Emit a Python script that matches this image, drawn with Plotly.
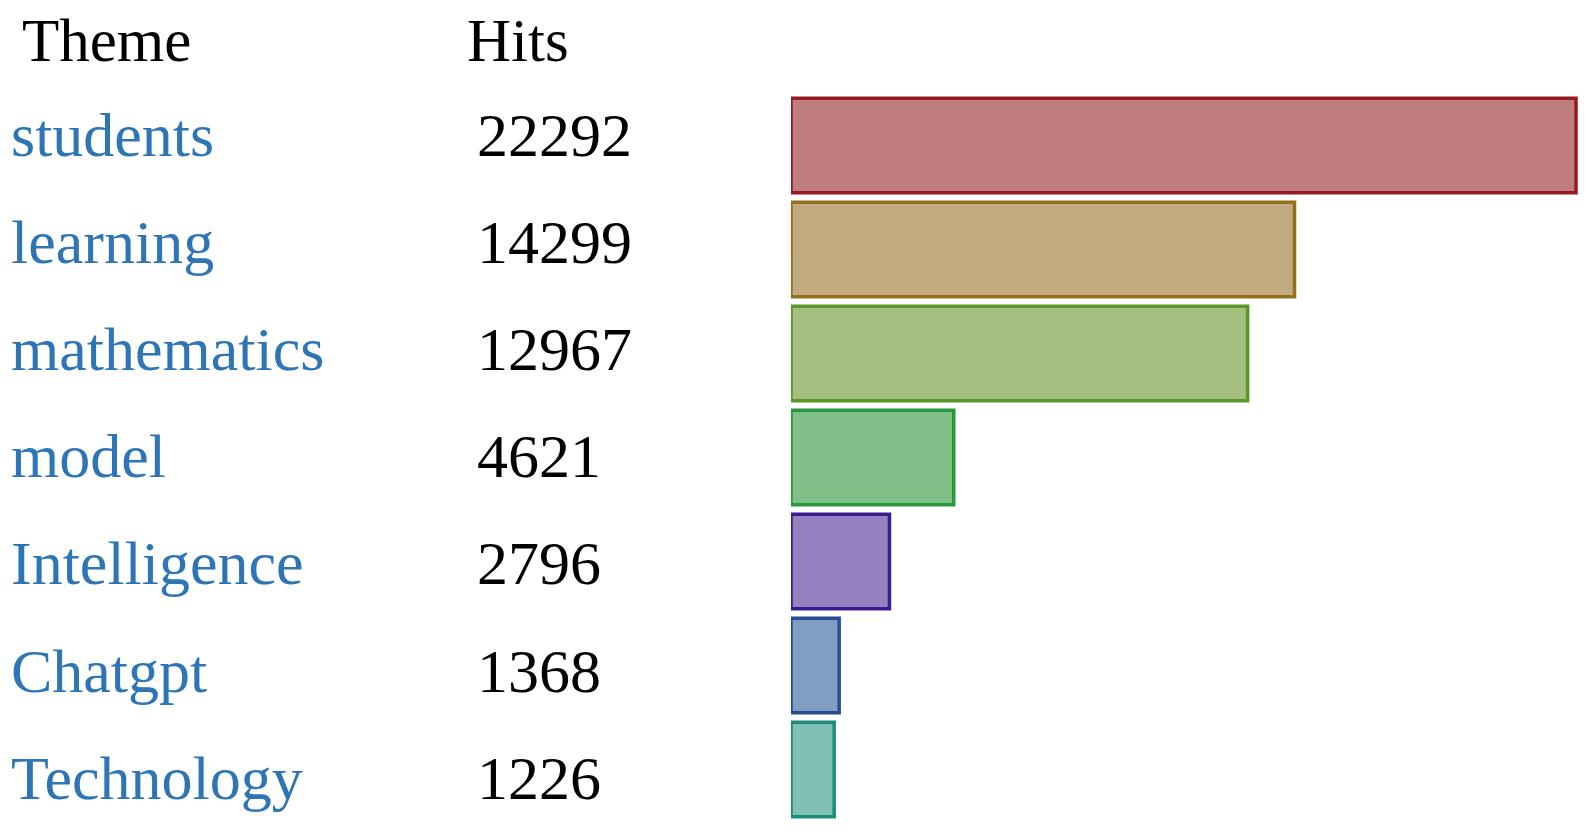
import plotly.graph_objects as go

# theme keywords and hit counts
themes = ["students", "learning", "mathematics", "model", "Intelligence", "Chatgpt", "Technology"]
hits = [22292, 14299, 12967, 4621, 2796, 1368, 1226]

fill_colors = ["#bf7d7d", "#c1aa80", "#a4bf7f", "#80c088", "#9580c0", "#7f9fc2", "#80c0b4"]
line_colors = ["#951a24", "#94701c", "#5a9628", "#2b963b", "#3a1c8c", "#284c92", "#1c8c77"]

# page body keeps an 8px margin, so the figure is a bit smaller than the window
W, H = 1577, 821
font = "Liberation Serif"
label_blue = "#2e75b6"

fig = go.Figure(go.Bar(
    x=hits, y=themes, orientation="h",
    marker=dict(color=fill_colors, line=dict(color=line_colors, width=3.5)),
    hoverinfo="x+y",
))

# text column rows are spaced a little wider than the bars
row_top, row_step = 126.5, 107.2

annotations = []
for i, (t, h) in enumerate(zip(themes, hits)):
    yy = 1 - (row_top + i * row_step) / H
    annotations.append(dict(x=1 / W, xref="paper", y=yy, yref="paper", text=t,
                            xanchor="left", yanchor="middle", showarrow=False,
                            font=dict(family=font, size=62, color=label_blue)))
    annotations.append(dict(x=467 / W, xref="paper", y=yy, yref="paper", text=str(h),
                            xanchor="left", yanchor="middle", showarrow=False,
                            font=dict(family=font, size=62, color="black")))

# headers
annotations.append(dict(x=12 / W, xref="paper", y=1 - 32.5 / H, yref="paper", text="Theme",
                        xanchor="left", yanchor="middle", showarrow=False,
                        font=dict(family=font, size=61, color="black")))
annotations.append(dict(x=457 / W, xref="paper", y=1 - 32.5 / H, yref="paper", text="Hits",
                        xanchor="left", yanchor="middle", showarrow=False,
                        font=dict(family=font, size=61, color="black")))

px_per_unit = 785 / 22292
fig.update_layout(
    width=W, height=H,
    margin=dict(l=0, r=0, t=0, b=0),
    paper_bgcolor="white", plot_bgcolor="white",
    showlegend=False,
    bargap=0.09,
    annotations=annotations,
    xaxis=dict(domain=[783 / W, 1576 / W], range=[0, 793 / px_per_unit],
               visible=False, fixedrange=True),
    yaxis=dict(domain=[(H - 813.5) / H, (H - 85.5) / H], autorange="reversed",
               visible=False, fixedrange=True),
)

fig.write_html("out.html")
